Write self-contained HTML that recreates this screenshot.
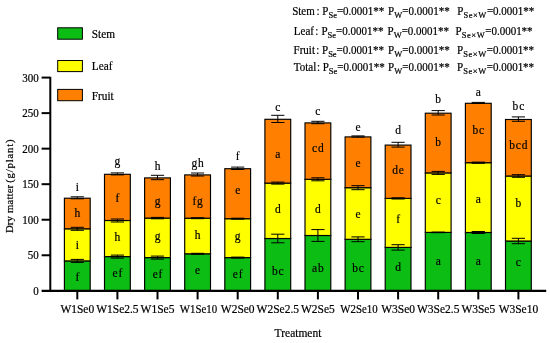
<!DOCTYPE html>
<html lang="en"><head><meta charset="utf-8"><title>Dry matter chart</title>
<style>html,body{margin:0;padding:0;background:#fff}body{width:550px;height:343px;overflow:hidden}svg{display:block}text{font-family:"Liberation Serif","DejaVu Serif",serif;font-size:11.5px;fill:#000;stroke:#000;stroke-width:0.2px}.s{font-size:11px}</style></head><body>
<svg width="550" height="343" viewBox="0 0 550 343">
<rect width="550" height="343" fill="#fff"/>
<g stroke="#000" stroke-width="1.15">
<rect x="64.40" y="260.90" width="25.8" height="29.90" fill="#0cbe14"/>
<rect x="64.40" y="228.80" width="25.8" height="32.10" fill="#ffff00"/>
<rect x="64.40" y="198.20" width="25.8" height="30.60" fill="#ff8000"/>
</g>
<path d="M70.70 196.80H83.90M70.70 198.80H83.90M77.30 196.80V198.80" stroke="#000" stroke-width="1" fill="none"/>
<path d="M70.70 227.30H83.90M70.70 230.30H83.90M77.30 227.30V230.30" stroke="#000" stroke-width="1" fill="none"/>
<path d="M70.70 259.40H83.90M70.70 262.40H83.90M77.30 259.40V262.40" stroke="#000" stroke-width="1" fill="none"/>
<g stroke="#000" stroke-width="1.15">
<rect x="104.50" y="256.60" width="25.8" height="34.20" fill="#0cbe14"/>
<rect x="104.50" y="220.50" width="25.8" height="36.10" fill="#ffff00"/>
<rect x="104.50" y="174.30" width="25.8" height="46.20" fill="#ff8000"/>
</g>
<path d="M110.80 172.90H124.00M110.80 174.90H124.00M117.40 172.90V174.90" stroke="#000" stroke-width="1" fill="none"/>
<path d="M110.80 219.00H124.00M110.80 222.00H124.00M117.40 219.00V222.00" stroke="#000" stroke-width="1" fill="none"/>
<path d="M110.80 255.10H124.00M110.80 258.10H124.00M117.40 255.10V258.10" stroke="#000" stroke-width="1" fill="none"/>
<g stroke="#000" stroke-width="1.15">
<rect x="144.60" y="257.60" width="25.8" height="33.20" fill="#0cbe14"/>
<rect x="144.60" y="218.10" width="25.8" height="39.50" fill="#ffff00"/>
<rect x="144.60" y="177.90" width="25.8" height="40.20" fill="#ff8000"/>
</g>
<path d="M150.90 175.30H164.10M150.90 179.70H164.10M157.50 175.30V179.70" stroke="#000" stroke-width="1" fill="none"/>
<path d="M150.90 217.40H164.10M150.90 218.80H164.10M157.50 217.40V218.80" stroke="#000" stroke-width="1" fill="none"/>
<path d="M150.90 256.10H164.10M150.90 259.10H164.10M157.50 256.10V259.10" stroke="#000" stroke-width="1" fill="none"/>
<g stroke="#000" stroke-width="1.15">
<rect x="184.70" y="253.80" width="25.8" height="37.00" fill="#0cbe14"/>
<rect x="184.70" y="218.20" width="25.8" height="35.60" fill="#ffff00"/>
<rect x="184.70" y="174.90" width="25.8" height="43.30" fill="#ff8000"/>
</g>
<path d="M191.00 173.00H204.20M191.00 176.00H204.20M197.60 173.00V176.00" stroke="#000" stroke-width="1" fill="none"/>
<path d="M191.00 217.70H204.20M191.00 218.70H204.20M197.60 217.70V218.70" stroke="#000" stroke-width="1" fill="none"/>
<path d="M191.00 253.30H204.20M191.00 254.30H204.20M197.60 253.30V254.30" stroke="#000" stroke-width="1" fill="none"/>
<g stroke="#000" stroke-width="1.15">
<rect x="224.80" y="257.60" width="25.8" height="33.20" fill="#0cbe14"/>
<rect x="224.80" y="218.70" width="25.8" height="38.90" fill="#ffff00"/>
<rect x="224.80" y="168.70" width="25.8" height="50.00" fill="#ff8000"/>
</g>
<path d="M231.10 167.10H244.30M231.10 169.50H244.30M237.70 167.10V169.50" stroke="#000" stroke-width="1" fill="none"/>
<path d="M231.10 218.20H244.30M231.10 219.20H244.30M237.70 218.20V219.20" stroke="#000" stroke-width="1" fill="none"/>
<path d="M231.10 257.10H244.30M231.10 258.10H244.30M237.70 257.10V258.10" stroke="#000" stroke-width="1" fill="none"/>
<g stroke="#000" stroke-width="1.15">
<rect x="264.90" y="238.50" width="25.8" height="52.30" fill="#0cbe14"/>
<rect x="264.90" y="183.10" width="25.8" height="55.40" fill="#ffff00"/>
<rect x="264.90" y="119.30" width="25.8" height="63.80" fill="#ff8000"/>
</g>
<path d="M271.20 115.30H284.40M271.20 122.50H284.40M277.80 115.30V122.50" stroke="#000" stroke-width="1" fill="none"/>
<path d="M271.20 182.10H284.40M271.20 184.10H284.40M277.80 182.10V184.10" stroke="#000" stroke-width="1" fill="none"/>
<path d="M271.20 234.20H284.40M271.20 242.80H284.40M277.80 234.20V242.80" stroke="#000" stroke-width="1" fill="none"/>
<g stroke="#000" stroke-width="1.15">
<rect x="305.00" y="235.50" width="25.8" height="55.30" fill="#0cbe14"/>
<rect x="305.00" y="179.30" width="25.8" height="56.20" fill="#ffff00"/>
<rect x="305.00" y="122.90" width="25.8" height="56.40" fill="#ff8000"/>
</g>
<path d="M311.30 121.30H324.50M311.30 123.70H324.50M317.90 121.30V123.70" stroke="#000" stroke-width="1" fill="none"/>
<path d="M311.30 177.80H324.50M311.30 180.80H324.50M317.90 177.80V180.80" stroke="#000" stroke-width="1" fill="none"/>
<path d="M311.30 229.60H324.50M311.30 241.40H324.50M317.90 229.60V241.40" stroke="#000" stroke-width="1" fill="none"/>
<g stroke="#000" stroke-width="1.15">
<rect x="345.10" y="239.30" width="25.8" height="51.50" fill="#0cbe14"/>
<rect x="345.10" y="187.70" width="25.8" height="51.60" fill="#ffff00"/>
<rect x="345.10" y="136.90" width="25.8" height="50.80" fill="#ff8000"/>
</g>
<path d="M351.40 135.90H364.60M351.40 137.10H364.60M358.00 135.90V137.10" stroke="#000" stroke-width="1" fill="none"/>
<path d="M351.40 185.70H364.60M351.40 189.70H364.60M358.00 185.70V189.70" stroke="#000" stroke-width="1" fill="none"/>
<path d="M351.40 236.90H364.60M351.40 241.70H364.60M358.00 236.90V241.70" stroke="#000" stroke-width="1" fill="none"/>
<g stroke="#000" stroke-width="1.15">
<rect x="385.20" y="247.40" width="25.8" height="43.40" fill="#0cbe14"/>
<rect x="385.20" y="198.40" width="25.8" height="49.00" fill="#ffff00"/>
<rect x="385.20" y="145.10" width="25.8" height="53.30" fill="#ff8000"/>
</g>
<path d="M391.50 142.30H404.70M391.50 147.10H404.70M398.10 142.30V147.10" stroke="#000" stroke-width="1" fill="none"/>
<path d="M391.50 197.80H404.70M391.50 199.00H404.70M398.10 197.80V199.00" stroke="#000" stroke-width="1" fill="none"/>
<path d="M391.50 244.70H404.70M391.50 250.10H404.70M398.10 244.70V250.10" stroke="#000" stroke-width="1" fill="none"/>
<g stroke="#000" stroke-width="1.15">
<rect x="425.30" y="232.40" width="25.8" height="58.40" fill="#0cbe14"/>
<rect x="425.30" y="172.90" width="25.8" height="59.50" fill="#ffff00"/>
<rect x="425.30" y="113.20" width="25.8" height="59.70" fill="#ff8000"/>
</g>
<path d="M431.60 110.60H444.80M431.60 115.00H444.80M438.20 110.60V115.00" stroke="#000" stroke-width="1" fill="none"/>
<path d="M431.60 171.40H444.80M431.60 174.40H444.80M438.20 171.40V174.40" stroke="#000" stroke-width="1" fill="none"/>
<path d="M431.60 232.10H444.80M431.60 232.70H444.80M438.20 232.10V232.70" stroke="#000" stroke-width="1" fill="none"/>
<g stroke="#000" stroke-width="1.15">
<rect x="465.40" y="232.50" width="25.8" height="58.30" fill="#0cbe14"/>
<rect x="465.40" y="162.70" width="25.8" height="69.80" fill="#ffff00"/>
<rect x="465.40" y="103.30" width="25.8" height="59.40" fill="#ff8000"/>
</g>
<path d="M471.70 102.40H484.90M471.70 103.40H484.90M478.30 102.40V103.40" stroke="#000" stroke-width="1" fill="none"/>
<path d="M471.70 162.10H484.90M471.70 163.30H484.90M478.30 162.10V163.30" stroke="#000" stroke-width="1" fill="none"/>
<path d="M471.70 231.50H484.90M471.70 233.50H484.90M478.30 231.50V233.50" stroke="#000" stroke-width="1" fill="none"/>
<g stroke="#000" stroke-width="1.15">
<rect x="505.50" y="241.00" width="25.8" height="49.80" fill="#0cbe14"/>
<rect x="505.50" y="176.00" width="25.8" height="65.00" fill="#ffff00"/>
<rect x="505.50" y="119.50" width="25.8" height="56.50" fill="#ff8000"/>
</g>
<path d="M511.80 116.90H525.00M511.80 121.30H525.00M518.40 116.90V121.30" stroke="#000" stroke-width="1" fill="none"/>
<path d="M511.80 174.70H525.00M511.80 177.30H525.00M518.40 174.70V177.30" stroke="#000" stroke-width="1" fill="none"/>
<path d="M511.80 238.30H525.00M511.80 243.70H525.00M518.40 238.30V243.70" stroke="#000" stroke-width="1" fill="none"/>
<path d="M50.3 76.8V290.8" stroke="#000" stroke-width="2" fill="none"/>
<path d="M41.6 290.8H546.2" stroke="#000" stroke-width="2.2" fill="none"/>
<path d="M41.6 255.27H50" stroke="#000" stroke-width="2"/>
<path d="M41.6 219.73H50" stroke="#000" stroke-width="2"/>
<path d="M41.6 184.19H50" stroke="#000" stroke-width="2"/>
<path d="M41.6 148.66H50" stroke="#000" stroke-width="2"/>
<path d="M41.6 113.12H50" stroke="#000" stroke-width="2"/>
<path d="M41.6 77.59H50" stroke="#000" stroke-width="2"/>
<path d="M77.30 290.8V299.4" stroke="#000" stroke-width="2"/>
<path d="M117.40 290.8V299.4" stroke="#000" stroke-width="2"/>
<path d="M157.50 290.8V299.4" stroke="#000" stroke-width="2"/>
<path d="M197.60 290.8V299.4" stroke="#000" stroke-width="2"/>
<path d="M237.70 290.8V299.4" stroke="#000" stroke-width="2"/>
<path d="M277.80 290.8V299.4" stroke="#000" stroke-width="2"/>
<path d="M317.90 290.8V299.4" stroke="#000" stroke-width="2"/>
<path d="M358.00 290.8V299.4" stroke="#000" stroke-width="2"/>
<path d="M398.10 290.8V299.4" stroke="#000" stroke-width="2"/>
<path d="M438.20 290.8V299.4" stroke="#000" stroke-width="2"/>
<path d="M478.30 290.8V299.4" stroke="#000" stroke-width="2"/>
<path d="M518.40 290.8V299.4" stroke="#000" stroke-width="2"/>
<text class="s" text-anchor="end" transform="translate(38.7 294.90) scale(1 1.08)">0</text>
<text class="s" text-anchor="end" transform="translate(38.7 259.37) scale(1 1.08)">50</text>
<text class="s" text-anchor="end" transform="translate(38.7 223.83) scale(1 1.08)">100</text>
<text class="s" text-anchor="end" transform="translate(38.7 188.29) scale(1 1.08)">150</text>
<text class="s" text-anchor="end" transform="translate(38.7 152.76) scale(1 1.08)">200</text>
<text class="s" text-anchor="end" transform="translate(38.7 117.22) scale(1 1.08)">250</text>
<text class="s" text-anchor="end" transform="translate(38.7 81.69) scale(1 1.08)">300</text>
<text text-anchor="middle" transform="translate(77.30 312.8) scale(1 1.08)">W1Se0</text>
<text text-anchor="middle" transform="translate(117.40 312.8) scale(1 1.08)">W1Se2.5</text>
<text text-anchor="middle" transform="translate(157.50 312.8) scale(1 1.08)">W1Se5</text>
<text text-anchor="middle" textLength="37.4" lengthAdjust="spacingAndGlyphs" transform="translate(198.50 312.8) scale(1 1.08)">W1Se10</text>
<text text-anchor="middle" transform="translate(237.70 312.8) scale(1 1.08)">W2Se0</text>
<text text-anchor="middle" transform="translate(277.80 312.8) scale(1 1.08)">W2Se2.5</text>
<text text-anchor="middle" transform="translate(317.90 312.8) scale(1 1.08)">W2Se5</text>
<text text-anchor="middle" textLength="37.4" lengthAdjust="spacingAndGlyphs" transform="translate(358.90 312.8) scale(1 1.08)">W2Se10</text>
<text text-anchor="middle" transform="translate(398.10 312.8) scale(1 1.08)">W3Se0</text>
<text text-anchor="middle" transform="translate(438.20 312.8) scale(1 1.08)">W3Se2.5</text>
<text text-anchor="middle" transform="translate(478.30 312.8) scale(1 1.08)">W3Se5</text>
<text text-anchor="middle" transform="translate(518.40 312.8) scale(1 1.08)">W3Se10</text>
<text text-anchor="middle" transform="translate(298 336.9) scale(1 1.08)">Treatment</text>
<text transform="translate(13.2 233) rotate(-90)" style="font-size:10.7px" textLength="48.2" lengthAdjust="spacing">Dry matter</text>
<text transform="translate(13.2 182.8) rotate(-90)" style="font-size:10.7px" textLength="43.4" lengthAdjust="spacing">(g/plant)</text>
<rect x="57.7" y="27.8" width="24.7" height="11.4" fill="#0cbe14" stroke="#000" stroke-width="1"/>
<text style="font-size:11.3px" transform="translate(91.8 38.0) scale(1 1.08)">Stem</text>
<rect x="57.7" y="60.5" width="24.7" height="11.1" fill="#ffff00" stroke="#000" stroke-width="1"/>
<text style="font-size:11.3px" transform="translate(91.8 69.5) scale(1 1.08)">Leaf</text>
<rect x="57.7" y="89.4" width="24.7" height="11.3" fill="#ff8000" stroke="#000" stroke-width="1"/>
<text style="font-size:11.3px" transform="translate(91.8 99.9) scale(1 1.08)">Fruit</text>
<text text-anchor="middle" transform="translate(77.30 280.90) scale(1 1.08)">f</text>
<text text-anchor="middle" letter-spacing="0.8" transform="translate(117.80 276.90) scale(1 1.08)">ef</text>
<text text-anchor="middle" letter-spacing="0.8" transform="translate(157.90 278.00) scale(1 1.08)">ef</text>
<text text-anchor="middle" transform="translate(197.60 273.90) scale(1 1.08)">e</text>
<text text-anchor="middle" letter-spacing="0.8" transform="translate(238.10 277.90) scale(1 1.08)">ef</text>
<text text-anchor="middle" letter-spacing="0.8" transform="translate(278.20 274.60) scale(1 1.08)">bc</text>
<text text-anchor="middle" letter-spacing="0.8" transform="translate(318.30 271.90) scale(1 1.08)">ab</text>
<text text-anchor="middle" letter-spacing="0.8" transform="translate(358.40 271.50) scale(1 1.08)">bc</text>
<text text-anchor="middle" transform="translate(398.10 270.80) scale(1 1.08)">d</text>
<text text-anchor="middle" transform="translate(438.20 265.40) scale(1 1.08)">a</text>
<text text-anchor="middle" transform="translate(478.30 265.40) scale(1 1.08)">a</text>
<text text-anchor="middle" transform="translate(518.40 266.00) scale(1 1.08)">c</text>
<text text-anchor="middle" transform="translate(77.30 248.50) scale(1 1.08)">i</text>
<text text-anchor="middle" transform="translate(117.40 240.90) scale(1 1.08)">h</text>
<text text-anchor="middle" transform="translate(157.50 240.00) scale(1 1.08)">g</text>
<text text-anchor="middle" transform="translate(197.60 239.00) scale(1 1.08)">h</text>
<text text-anchor="middle" transform="translate(237.70 240.00) scale(1 1.08)">g</text>
<text text-anchor="middle" transform="translate(277.80 213.20) scale(1 1.08)">d</text>
<text text-anchor="middle" transform="translate(317.90 213.20) scale(1 1.08)">d</text>
<text text-anchor="middle" transform="translate(358.00 218.20) scale(1 1.08)">e</text>
<text text-anchor="middle" transform="translate(398.10 223.00) scale(1 1.08)">f</text>
<text text-anchor="middle" transform="translate(438.20 203.80) scale(1 1.08)">c</text>
<text text-anchor="middle" transform="translate(478.30 203.20) scale(1 1.08)">a</text>
<text text-anchor="middle" transform="translate(518.40 206.70) scale(1 1.08)">b</text>
<text text-anchor="middle" transform="translate(77.30 217.30) scale(1 1.08)">h</text>
<text text-anchor="middle" transform="translate(117.40 201.60) scale(1 1.08)">f</text>
<text text-anchor="middle" transform="translate(157.50 204.90) scale(1 1.08)">g</text>
<text text-anchor="middle" letter-spacing="0.8" transform="translate(198.00 204.90) scale(1 1.08)">fg</text>
<text text-anchor="middle" transform="translate(237.70 194.40) scale(1 1.08)">e</text>
<text text-anchor="middle" transform="translate(277.80 157.80) scale(1 1.08)">a</text>
<text text-anchor="middle" letter-spacing="0.8" transform="translate(318.30 151.70) scale(1 1.08)">cd</text>
<text text-anchor="middle" transform="translate(358.00 166.90) scale(1 1.08)">e</text>
<text text-anchor="middle" letter-spacing="0.8" transform="translate(398.50 173.70) scale(1 1.08)">de</text>
<text text-anchor="middle" transform="translate(438.20 145.60) scale(1 1.08)">b</text>
<text text-anchor="middle" letter-spacing="0.8" transform="translate(478.70 134.20) scale(1 1.08)">bc</text>
<text text-anchor="middle" letter-spacing="0.8" transform="translate(518.80 148.50) scale(1 1.08)">bcd</text>
<text text-anchor="middle" transform="translate(77.30 190.50) scale(1 1.08)">i</text>
<text text-anchor="middle" transform="translate(117.40 165.30) scale(1 1.08)">g</text>
<text text-anchor="middle" transform="translate(157.50 170.20) scale(1 1.08)">h</text>
<text text-anchor="middle" letter-spacing="0.8" transform="translate(198.00 167.00) scale(1 1.08)">gh</text>
<text text-anchor="middle" transform="translate(237.70 160.10) scale(1 1.08)">f</text>
<text text-anchor="middle" transform="translate(277.80 110.70) scale(1 1.08)">c</text>
<text text-anchor="middle" transform="translate(317.90 115.10) scale(1 1.08)">c</text>
<text text-anchor="middle" transform="translate(358.00 131.20) scale(1 1.08)">e</text>
<text text-anchor="middle" transform="translate(398.10 134.40) scale(1 1.08)">d</text>
<text text-anchor="middle" transform="translate(438.20 103.10) scale(1 1.08)">b</text>
<text text-anchor="middle" transform="translate(478.30 96.10) scale(1 1.08)">a</text>
<text text-anchor="middle" letter-spacing="0.8" transform="translate(518.80 109.90) scale(1 1.08)">bc</text>
<text class="s" transform="translate(292.2 15.3) scale(1 1.08)">Stem</text><text class="s" transform="translate(316.4 15.3) scale(1 1.08)">:</text>
<text class="s" transform="translate(322.3 15.3) scale(1 1.08)">P<tspan dy="2.5" font-size="8.5px">Se</tspan><tspan dy="-2.5">=0.0001**</tspan></text>
<text class="s" transform="translate(388.1 15.3) scale(1 1.08)">P<tspan dy="2.5" font-size="8.5px">W</tspan><tspan dy="-2.5">=0.0001**</tspan></text>
<text class="s" transform="translate(457.3 15.3) scale(1 1.08)">P<tspan dy="2.5" font-size="8.5px" letter-spacing="0.55">Se×W</tspan><tspan dy="-2.5">=0.0001**</tspan></text>
<text class="s" transform="translate(293.8 34.8) scale(1 1.08)">Leaf</text><text class="s" transform="translate(315.2 34.8) scale(1 1.08)">:</text>
<text class="s" transform="translate(321.4 34.8) scale(1 1.08)">P<tspan dy="2.5" font-size="8.5px">Se</tspan><tspan dy="-2.5">=0.0001**</tspan></text>
<text class="s" transform="translate(387.5 34.8) scale(1 1.08)">P<tspan dy="2.5" font-size="8.5px">W</tspan><tspan dy="-2.5">=0.0001**</tspan></text>
<text class="s" transform="translate(455.6 34.8) scale(1 1.08)">P<tspan dy="2.5" font-size="8.5px" letter-spacing="0.55">Se×W</tspan><tspan dy="-2.5">=0.0001**</tspan></text>
<text class="s" transform="translate(293.6 54.0) scale(1 1.08)">Fruit</text><text class="s" transform="translate(316.2 54.0) scale(1 1.08)">:</text>
<text class="s" transform="translate(322.0 54.0) scale(1 1.08)">P<tspan dy="2.5" font-size="8.5px">Se</tspan><tspan dy="-2.5">=0.0001**</tspan></text>
<text class="s" transform="translate(388.1 54.0) scale(1 1.08)">P<tspan dy="2.5" font-size="8.5px">W</tspan><tspan dy="-2.5">=0.0001**</tspan></text>
<text class="s" transform="translate(457.1 54.0) scale(1 1.08)">P<tspan dy="2.5" font-size="8.5px" letter-spacing="0.55">Se×W</tspan><tspan dy="-2.5">=0.0001**</tspan></text>
<text class="s" transform="translate(293.8 71.0) scale(1 1.08)">Total</text><text class="s" transform="translate(316.9 71.0) scale(1 1.08)">:</text>
<text class="s" transform="translate(322.7 71.0) scale(1 1.08)">P<tspan dy="2.5" font-size="8.5px">Se</tspan><tspan dy="-2.5">=0.0001**</tspan></text>
<text class="s" transform="translate(388.1 71.0) scale(1 1.08)">P<tspan dy="2.5" font-size="8.5px">W</tspan><tspan dy="-2.5">=0.0001**</tspan></text>
<text class="s" transform="translate(457.1 71.0) scale(1 1.08)">P<tspan dy="2.5" font-size="8.5px" letter-spacing="0.55">Se×W</tspan><tspan dy="-2.5">=0.0001**</tspan></text>
</svg></body></html>
